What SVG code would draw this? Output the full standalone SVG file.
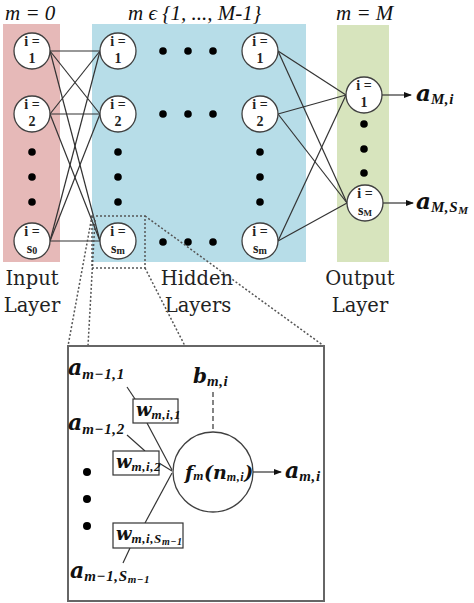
<svg xmlns="http://www.w3.org/2000/svg" width="474" height="603" viewBox="0 0 474 603">
<defs>
<style>
.node circle{fill:#fff;stroke:#404040;stroke-width:1.3}
.nl{font-family:"Liberation Serif","DejaVu Serif",serif;font-weight:bold;font-size:14px;fill:#222;text-anchor:middle}
.hdr{font-family:"Liberation Serif","DejaVu Serif",serif;font-style:italic;font-size:21px;fill:#111}
.lay{font-family:"DejaVu Serif",serif;font-size:19.5px;fill:#222;text-anchor:middle}
.math{font-family:"DejaVu Serif",serif;font-style:italic;font-weight:bold;fill:#111}
.sub{font-family:"Liberation Serif","DejaVu Serif",serif;letter-spacing:0.6px}
.con line{stroke:#333;stroke-width:1.2}
.dot{fill:#000}
.dotted{stroke:#555;stroke-width:1.5;stroke-dasharray:2,2;fill:none}
.wbox{fill:#fff;stroke:#333;stroke-width:1.2}
</style>
<marker id="arr" markerWidth="8" markerHeight="8" refX="7" refY="4" orient="auto" markerUnits="userSpaceOnUse">
<path d="M0,1 L8,4 L0,7 Z" fill="#111"/>
</marker>
</defs>
<rect width="474" height="603" fill="#fff"/>
<!-- panels -->
<rect x="3" y="24" width="57" height="238" fill="#E6B9B8"/>
<rect x="92" y="24" width="214" height="238" fill="#B7DDE8"/>
<rect x="337" y="25" width="52" height="237" fill="#D7E4BD"/>
<!-- headers -->
<text class="hdr" x="5" y="20">m = 0</text>
<text class="hdr" x="128" y="20">m ϵ {1, ..., M-1}</text>
<text class="hdr" x="336" y="20">m = M</text>
<!-- layer labels -->
<text class="lay" x="32" y="285">Input</text>
<text class="lay" x="32" y="312">Layer</text>
<text class="lay" x="197" y="285">Hidden</text>
<text class="lay" x="198" y="312">Layers</text>
<text class="lay" x="360" y="285">Output</text>
<text class="lay" x="360" y="312">Layer</text>
<!-- connectors -->
<g id="connectors" class="con">
<line x1="50" y1="51" x2="100" y2="51"/>
<line x1="50" y1="51" x2="100" y2="114"/>
<line x1="50" y1="51" x2="100" y2="241"/>
<line x1="50" y1="114" x2="100" y2="51"/>
<line x1="50" y1="114" x2="100" y2="114"/>
<line x1="50" y1="114" x2="100" y2="241"/>
<line x1="50" y1="241" x2="100" y2="51"/>
<line x1="50" y1="241" x2="100" y2="114"/>
<line x1="50" y1="241" x2="100" y2="241"/>
<line x1="278" y1="51" x2="346" y2="95"/>
<line x1="278" y1="51" x2="347" y2="203"/>
<line x1="278" y1="114" x2="346" y2="95"/>
<line x1="278" y1="114" x2="347" y2="203"/>
<line x1="278" y1="241" x2="346" y2="95"/>
<line x1="278" y1="241" x2="347" y2="203"/>
<line x1="382" y1="95" x2="411" y2="95" marker-end="url(#arr)"/>
<line x1="383" y1="203" x2="413" y2="203" marker-end="url(#arr)"/>
</g>
<!-- dots -->
<g class="dot">
<circle cx="32" cy="152" r="3.8"/><circle cx="32" cy="177" r="3.8"/><circle cx="32" cy="202" r="3.8"/>
<circle cx="118" cy="152" r="3.8"/><circle cx="118" cy="177" r="3.8"/><circle cx="118" cy="202" r="3.8"/>
<circle cx="260" cy="152" r="3.8"/><circle cx="260" cy="177" r="3.8"/><circle cx="260" cy="202" r="3.8"/>
<circle cx="163" cy="51" r="3.8"/><circle cx="188" cy="51" r="3.8"/><circle cx="213" cy="51" r="3.8"/>
<circle cx="163" cy="114" r="3.8"/><circle cx="188" cy="114" r="3.8"/><circle cx="213" cy="114" r="3.8"/>
<circle cx="163" cy="242" r="3.8"/><circle cx="188" cy="242" r="3.8"/><circle cx="213" cy="242" r="3.8"/>
<circle cx="364" cy="124" r="3.8"/><circle cx="364" cy="149" r="3.8"/><circle cx="364" cy="173" r="3.8"/>
</g>
<!-- nodes -->
<g id="in1" class="node"><circle cx="32" cy="51" r="18"/><text class="nl" x="32" y="46">i =</text><text class="nl" x="32" y="63">1</text></g>
<g id="in2" class="node"><circle cx="32" cy="114" r="18"/><text class="nl" x="32" y="109">i =</text><text class="nl" x="32" y="126">2</text></g>
<g id="inS" class="node"><circle cx="32" cy="241" r="18"/><text class="nl" x="32" y="236">i =</text><text class="nl" x="32" y="253">s<tspan font-size="10" dy="1">0</tspan></text></g>
<g id="h1_1" class="node"><circle cx="118" cy="51" r="18"/><text class="nl" x="118" y="46">i =</text><text class="nl" x="118" y="63">1</text></g>
<g id="h1_2" class="node"><circle cx="118" cy="114" r="18"/><text class="nl" x="118" y="109">i =</text><text class="nl" x="118" y="126">2</text></g>
<g id="h1_S" class="node"><circle cx="118" cy="241" r="18"/><text class="nl" x="118" y="236">i =</text><text class="nl" x="118" y="253">s<tspan font-size="10" dy="1">m</tspan></text></g>
<g id="h2_1" class="node"><circle cx="260" cy="51" r="18"/><text class="nl" x="260" y="46">i =</text><text class="nl" x="260" y="63">1</text></g>
<g id="h2_2" class="node"><circle cx="260" cy="114" r="18"/><text class="nl" x="260" y="109">i =</text><text class="nl" x="260" y="126">2</text></g>
<g id="h2_S" class="node"><circle cx="260" cy="241" r="18"/><text class="nl" x="260" y="236">i =</text><text class="nl" x="260" y="253">s<tspan font-size="10" dy="1">m</tspan></text></g>
<g id="out1" class="node"><circle cx="364" cy="95" r="18"/><text class="nl" x="364" y="90">i =</text><text class="nl" x="364" y="107">1</text></g>
<g id="outS" class="node"><circle cx="365" cy="203" r="18"/><text class="nl" x="365" y="198">i =</text><text class="nl" x="365" y="215">s<tspan font-size="9" dy="1">M</tspan></text></g>
<!-- output labels -->
<text class="math" x="416" y="101"><tspan font-size="23">a</tspan><tspan class="sub" font-size="15" dy="3" letter-spacing="2">M,i</tspan></text>
<text class="math" x="416" y="209"><tspan font-size="23">a</tspan><tspan class="sub" font-size="15" dy="3" letter-spacing="1.5">M,S</tspan><tspan class="sub" font-size="11" dy="2">M</tspan></text>
<!-- zoom indication -->
<rect class="dotted" x="92" y="216" width="53" height="52"/>
<line class="dotted" x1="92" y1="216" x2="68" y2="346"/>
<line class="dotted" x1="95" y1="220" x2="88" y2="346"/>
<line class="dotted" x1="145" y1="216" x2="324" y2="346"/>
<line class="dotted" x1="145" y1="268" x2="185" y2="346"/>
<rect x="68" y="346" width="256" height="255" fill="none" stroke="#666" stroke-width="2"/>
<!-- detail -->
<g id="detail-connectors" class="con">
<line x1="127" y1="387" x2="135" y2="399"/>
<line x1="147" y1="423" x2="172" y2="470"/>
<line x1="127" y1="435" x2="145" y2="451"/>
<line x1="159" y1="463" x2="172" y2="471"/>
<line x1="145" y1="523" x2="172" y2="473"/>
<line x1="130" y1="548" x2="123" y2="563"/>
<line x1="213" y1="392" x2="213" y2="432" stroke-dasharray="5,3"/>
<line x1="253" y1="472" x2="281" y2="472" marker-end="url(#arr)"/>
</g>
<g id="neuron" class="node"><circle cx="213" cy="472" r="40"/>
<text class="math" x="185" y="479"><tspan font-size="19">f</tspan><tspan class="sub" font-size="13" dy="1" letter-spacing="0">m</tspan><tspan font-size="19" dy="-1">(n</tspan><tspan class="sub" font-size="12" dy="2" letter-spacing="0">m,i</tspan><tspan font-size="19" dy="-2">)</tspan></text>
</g>
<g id="w1"><rect class="wbox" x="133" y="399" width="45" height="24"/>
<text class="math" x="136" y="416"><tspan font-size="18">w</tspan><tspan class="sub" font-size="13" dy="3">m,i,1</tspan></text></g>
<g id="w2"><rect class="wbox" x="113" y="451" width="46" height="24"/>
<text class="math" x="116" y="468"><tspan font-size="18">w</tspan><tspan class="sub" font-size="13" dy="3">m,i,2</tspan></text></g>
<g id="w3"><rect class="wbox" x="113" y="523" width="70" height="25"/>
<text class="math" x="116" y="540"><tspan font-size="18">w</tspan><tspan class="sub" font-size="13" dy="3">m,i,S</tspan><tspan class="sub" font-size="10" dy="2">m−1</tspan></text></g>
<text class="math" x="68" y="375"><tspan font-size="22">a</tspan><tspan class="sub" font-size="15" dy="4">m−1,1</tspan></text>
<text class="math" x="68" y="430"><tspan font-size="22">a</tspan><tspan class="sub" font-size="15" dy="4">m−1,2</tspan></text>
<text class="math" x="70" y="578"><tspan font-size="22">a</tspan><tspan class="sub" font-size="15" dy="3">m−1,S</tspan><tspan class="sub" font-size="11" dy="2">m−1</tspan></text>
<text class="math" x="193" y="383"><tspan font-size="20">b</tspan><tspan class="sub" font-size="15" dy="3">m,i</tspan></text>
<text class="math" x="285" y="478"><tspan font-size="22">a</tspan><tspan class="sub" font-size="15" dy="3">m,i</tspan></text>
<g class="dot"><circle cx="87" cy="472" r="4"/><circle cx="87" cy="499" r="4"/><circle cx="87" cy="526" r="4"/></g>
</svg>
